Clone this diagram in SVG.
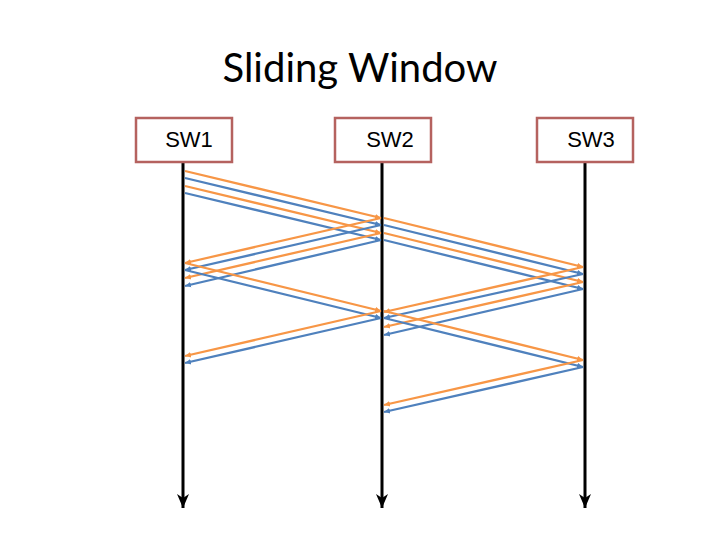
<svg xmlns="http://www.w3.org/2000/svg" width="720" height="540" viewBox="0 0 720 540">
<style>
.box{fill:#fff;stroke:#B5625F;stroke-width:2.5}
.lbl{font-family:"Liberation Sans",Arial,sans-serif;font-size:22px;fill:#000;text-anchor:middle}
.life{stroke:#000;stroke-width:3;fill:none}
.o{stroke:#F79646;stroke-width:2.3;fill:none;marker-end:url(#ao)}
.b{stroke:#4F81BD;stroke-width:2.3;fill:none;marker-end:url(#ab)}
</style>
<defs>
<marker id="ao" markerUnits="userSpaceOnUse" markerWidth="8" markerHeight="8" refX="6" refY="4" orient="auto"><path d="M0,1.2 L6,4 L0,6.8 Z" fill="#F79646"/></marker>
<marker id="ab" markerUnits="userSpaceOnUse" markerWidth="8" markerHeight="8" refX="6" refY="4" orient="auto"><path d="M0,1.2 L6,4 L0,6.8 Z" fill="#4F81BD"/></marker>
<marker id="ak" markerUnits="userSpaceOnUse" markerWidth="14" markerHeight="16" refX="6" refY="14" orient="0"><path d="M0,0 L6,14 L12,0 L6,4 Z" fill="#000"/></marker>
</defs>
<rect width="720" height="540" fill="#fff"/>
<text x="360" y="82" font-family="Lato,'Open Sans',sans-serif" font-size="40" text-anchor="middle" textLength="275" lengthAdjust="spacingAndGlyphs">Sliding Window</text>
<g id="lifelines">
<line class="life" x1="183" y1="163" x2="183" y2="508" marker-end="url(#ak)"/>
<line class="life" x1="382" y1="163" x2="382" y2="508" marker-end="url(#ak)"/>
<line class="life" x1="585" y1="163" x2="585" y2="508" marker-end="url(#ak)"/>
</g>
<g id="sw1"><rect class="box" x="136" y="118" width="96" height="44"/><text class="lbl" x="189" y="147">SW1</text></g>
<g id="sw2"><rect class="box" x="335" y="118" width="96" height="44"/><text class="lbl" x="390" y="147">SW2</text></g>
<g id="sw3"><rect class="box" x="537" y="118" width="96" height="44"/><text class="lbl" x="591" y="147">SW3</text></g>
<g id="connectors">
<line class="o" x1="185" y1="171" x2="381" y2="218"/>
<line class="b" x1="185" y1="178" x2="381" y2="225"/>
<line class="o" x1="185" y1="186" x2="381" y2="233"/>
<line class="b" x1="185" y1="193" x2="381" y2="240"/>
<line class="o" x1="384" y1="218" x2="583" y2="267"/>
<line class="b" x1="384" y1="225" x2="583" y2="274"/>
<line class="o" x1="384" y1="233" x2="583" y2="282"/>
<line class="b" x1="384" y1="240" x2="583" y2="289"/>
<line class="o" x1="381" y1="218" x2="185" y2="263"/>
<line class="b" x1="381" y1="225" x2="185" y2="270"/>
<line class="o" x1="381" y1="233" x2="185" y2="278"/>
<line class="b" x1="381" y1="240" x2="185" y2="286"/>
<line class="o" x1="583" y1="267" x2="384" y2="312"/>
<line class="b" x1="583" y1="274" x2="384" y2="318"/>
<line class="o" x1="583" y1="282" x2="384" y2="327"/>
<line class="b" x1="583" y1="289" x2="384" y2="335"/>
<line class="o" x1="185" y1="263" x2="381" y2="311"/>
<line class="b" x1="185" y1="270" x2="381" y2="318"/>
<line class="o" x1="384" y1="311" x2="583" y2="360"/>
<line class="b" x1="384" y1="318" x2="583" y2="367"/>
<line class="o" x1="381" y1="311" x2="185" y2="356"/>
<line class="b" x1="381" y1="318" x2="185" y2="363"/>
<line class="o" x1="583" y1="360" x2="384" y2="405"/>
<line class="b" x1="583" y1="367" x2="384" y2="412"/>
</g>
</svg>
